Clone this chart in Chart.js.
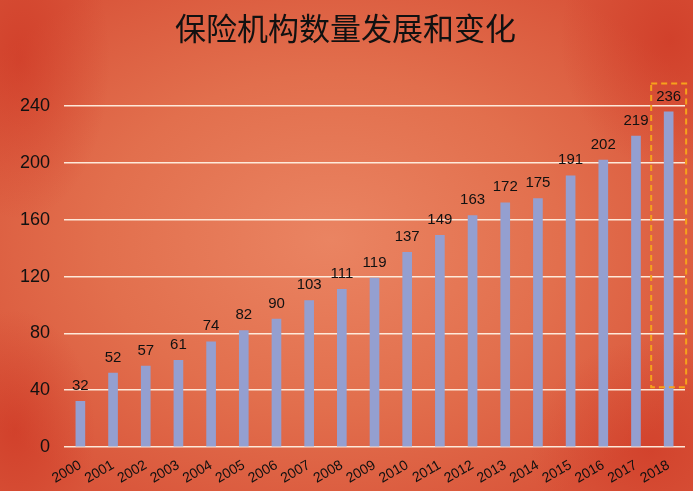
<!DOCTYPE html>
<html>
<head>
<meta charset="utf-8">
<script src="https://cdn.jsdelivr.net/npm/chart.js@4/dist/chart.umd.min.js"></script>
<style>
  html, body { margin: 0; padding: 0; }
  body {
    width: 693px; height: 491px; overflow: hidden;
    background:
      radial-gradient(ellipse 90px 160px at 20px 60px, rgba(200,40,25,0.45), rgba(200,40,25,0) 100%),
      radial-gradient(ellipse 80px 120px at 15px 430px, rgba(200,40,25,0.45), rgba(200,40,25,0) 100%),
      radial-gradient(ellipse 110px 130px at 670px 40px, rgba(200,40,25,0.45), rgba(200,40,25,0) 100%),
      radial-gradient(ellipse 120px 110px at 650px 450px, rgba(200,40,25,0.4), rgba(200,40,25,0) 100%),
      radial-gradient(ellipse 420px 300px at 330px 240px, #ea8462 0%, #e26f4d 55%, #d9553a 100%);
  }
  #wrap { position: absolute; left: 0; top: 0; width: 693px; height: 491px; }
</style>
</head>
<body>
<div id="wrap"><canvas id="insChart"></canvas></div>
<script>
const years = ['2000', '2001', '2002', '2003', '2004', '2005', '2006', '2007', '2008', '2009',
               '2010', '2011', '2012', '2013', '2014', '2015', '2016', '2017', '2018'];
const counts = [32, 52, 57, 61, 74, 82, 90, 103, 111, 119, 137, 149, 163, 172, 175, 191, 202, 219, 236];
const yTicks = [0, 40, 80, 120, 160, 200, 240];
const highlight = { index: 18, from: 42, to: 256 };

const ctx = document.getElementById('insChart').getContext('2d');

// value labels above bars
const barLabels = {
    id: 'barLabels',
    afterDatasetsDraw(chart) {
        const c = chart.ctx;
        const meta = chart.getDatasetMeta(0);
        c.save();
        c.font = '15px "Liberation Sans", Arial, sans-serif';
        c.fillStyle = '#111';
        c.textAlign = 'center';
        c.textBaseline = 'bottom';
        meta.data.forEach((bar, i) => {
            c.fillText(String(counts[i]), bar.x, bar.y - 8);
        });
        c.restore();
    }
};

// dashed box around the last year
const dashBox = {
    id: 'dashBox',
    afterDatasetsDraw(chart) {
        const c = chart.ctx;
        const x = chart.scales.x, y = chart.scales.y;
        const half = (x.getPixelForValue(1) - x.getPixelForValue(0)) / 2 * 1.07;
        const cx = x.getPixelForValue(highlight.index);
        const top = y.getPixelForValue(highlight.to);
        const bot = y.getPixelForValue(highlight.from);
        c.save();
        c.strokeStyle = '#f7a21b';
        c.lineWidth = 2;
        c.setLineDash([6, 4]);
        c.strokeRect(cx - half, top, half * 2, bot - top);
        c.restore();
    }
};

new Chart(ctx, {
    type: 'bar',
    data: {
        labels: years,
        datasets: [{
            data: counts,
            backgroundColor: '#949fd0',
            barThickness: 9
        }]
    },
    options: {
        responsive: true,
        maintainAspectRatio: false,
        animation: false,
        layout: { padding: { left: 6, right: 8, top: 0, bottom: 2 } },
        plugins: {
            legend: { display: false },
            tooltip: { enabled: false },
            title: {
                display: true,
                text: '保险机构数量发展和变化',
                color: '#111',
                font: { family: '"Noto Sans CJK SC", sans-serif', size: 31, weight: 'normal' },
                padding: { top: 10, bottom: 59 }
            }
        },
        scales: {
            x: {
                grid: { display: false },
                border: { display: false },
                ticks: {
                    color: '#111',
                    autoSkip: false,
                    font: { family: '"Liberation Sans", Arial, sans-serif', size: 14 },
                    minRotation: 30,
                    maxRotation: 30,
                    padding: 2
                }
            },
            y: {
                min: 0,
                max: 240,
                afterBuildTicks(axis) { axis.ticks = yTicks.map(v => ({ value: v })); },
                grid: { color: 'rgba(255,240,225,0.95)', lineWidth: 1.5, drawTicks: false },
                border: { display: false },
                ticks: {
                    color: '#111',
                    font: { family: '"Liberation Sans", Arial, sans-serif', size: 18 },
                    padding: 14
                }
            }
        }
    },
    plugins: [barLabels, dashBox]
});
</script>
</body>
</html>
